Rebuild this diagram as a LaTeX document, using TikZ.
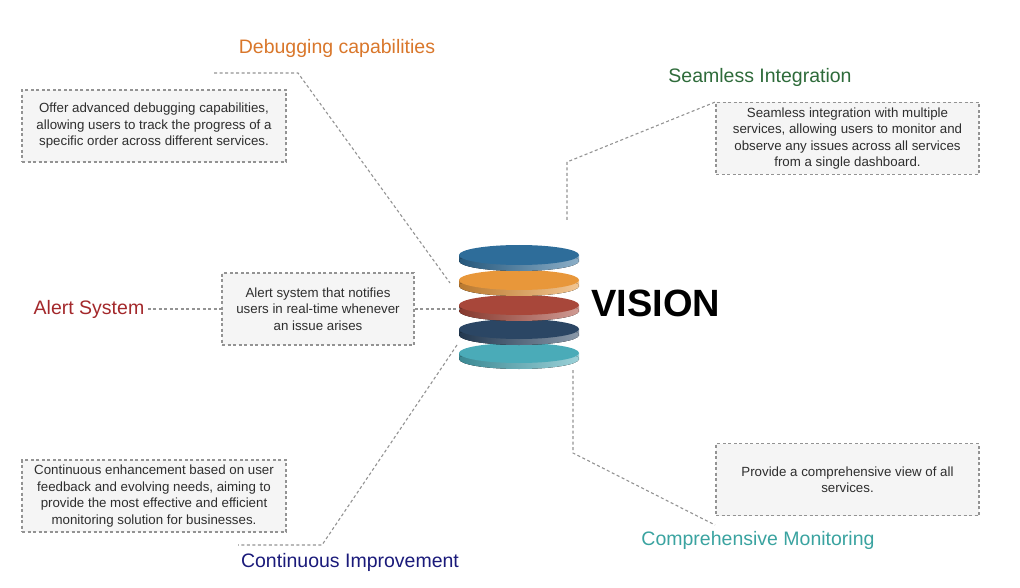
\documentclass[tikz,border=0pt]{standalone}
\usepackage{fontspec}
\setmainfont{Liberation Sans}
\begin{document}
\begin{tikzpicture}[x=1pt,y=-1pt,
  box/.style={draw=gray!85,dash pattern=on 3pt off 2.5pt,fill=gray!8,line width=1.1pt,align=center,text=black!82,font=\fontsize{13.3}{16.5}\selectfont,inner sep=4pt,minimum height=72pt},
  ttl/.style={font=\fontsize{19.5}{23}\selectfont},
  con/.style={draw=gray!85,dash pattern=on 3pt off 2.5pt,line width=1.1pt}]
\useasboundingbox (0,0) rectangle (1020,588);
% discs
\definecolor{c1}{HTML}{4AABB8}\definecolor{c2}{HTML}{2B4664}\definecolor{c3}{HTML}{A8473A}
\definecolor{c4}{HTML}{E8973A}\definecolor{c5}{HTML}{2E6D9A}
\foreach \cy/\col in {353/c1,329/c2,305/c3,280/c4,255/c5}{
  \fill[left color=\col!80!black,right color=\col!55!white] (459,\cy) rectangle (579,\cy+6);
  \fill[left color=\col!80!black,right color=\col!55!white] (519,\cy+6) ellipse[x radius=60,y radius=10];
  \fill[\col] (519,\cy) ellipse[x radius=60,y radius=10];
}
\node[font=\fontsize{38}{40}\selectfont\bfseries] (vis) at (656,303) {VISION};
% titles
\definecolor{t1}{HTML}{D9772B}\definecolor{t2}{HTML}{2E6B3A}\definecolor{t3}{HTML}{A3282B}
\definecolor{t4}{HTML}{1A1A7A}\definecolor{t5}{HTML}{3AA3A0}
\node[ttl,text=t1] (dbgT) at (337,48) {Debugging capabilities};
\node[ttl,text=t2] (seaT) at (760,77) {Seamless Integration};
\node[ttl,text=t3] (alT) at (89,309) {Alert System};
\node[ttl,text=t4] (conT) at (350,562) {Continuous Improvement};
\node[ttl,text=t5] (comT) at (758,540) {Comprehensive Monitoring};
% boxes
\node[box,minimum width=264pt] (dbgB) at (154,126) {Offer advanced debugging capabilities,\\allowing users to track the progress of a\\specific order across different services.};
\node[box,minimum width=263pt] (seaB) at (847.5,138.5) {Seamless integration with multiple\\services, allowing users to monitor and\\observe any issues across all services\\from a single dashboard.};
\node[box,minimum width=192pt] (alB) at (318,309) {Alert system that notifies\\users in real-time whenever\\an issue arises};
\node[box,minimum width=264pt] (conB) at (154,496) {Continuous enhancement based on user\\feedback and evolving needs, aiming to\\provide the most effective and efficient\\monitoring solution for businesses.};
\node[box,minimum width=263pt] (comB) at (847.5,479.5) {Provide a comprehensive view of all\\services.};
% connectors
\coordinate (d1) at (214,73); \coordinate (d2) at (298,73); \coordinate (d3) at (450,283);
\draw[con] (d1) -- (d2) -- (d3);
\coordinate (s1) at (567,220); \coordinate (s2) at (567,162);
\draw[con] (s1) -- (s2) -- (seaB.north west);
\draw[con] (alT.east) -- (alB.west);
\coordinate (a2) at (460,309);
\draw[con] (alB.east) -- (a2);
\coordinate (c1) at (457,345); \coordinate (c2) at (322,545); \coordinate (c3) at (238,545);
\draw[con] (c1) -- (c2) -- (c3);
\coordinate (m1) at (573,370); \coordinate (m2) at (573,453); \coordinate (m3) at (715,525);
\draw[con] (m1) -- (m2) -- (m3);
\end{tikzpicture}
\end{document}
